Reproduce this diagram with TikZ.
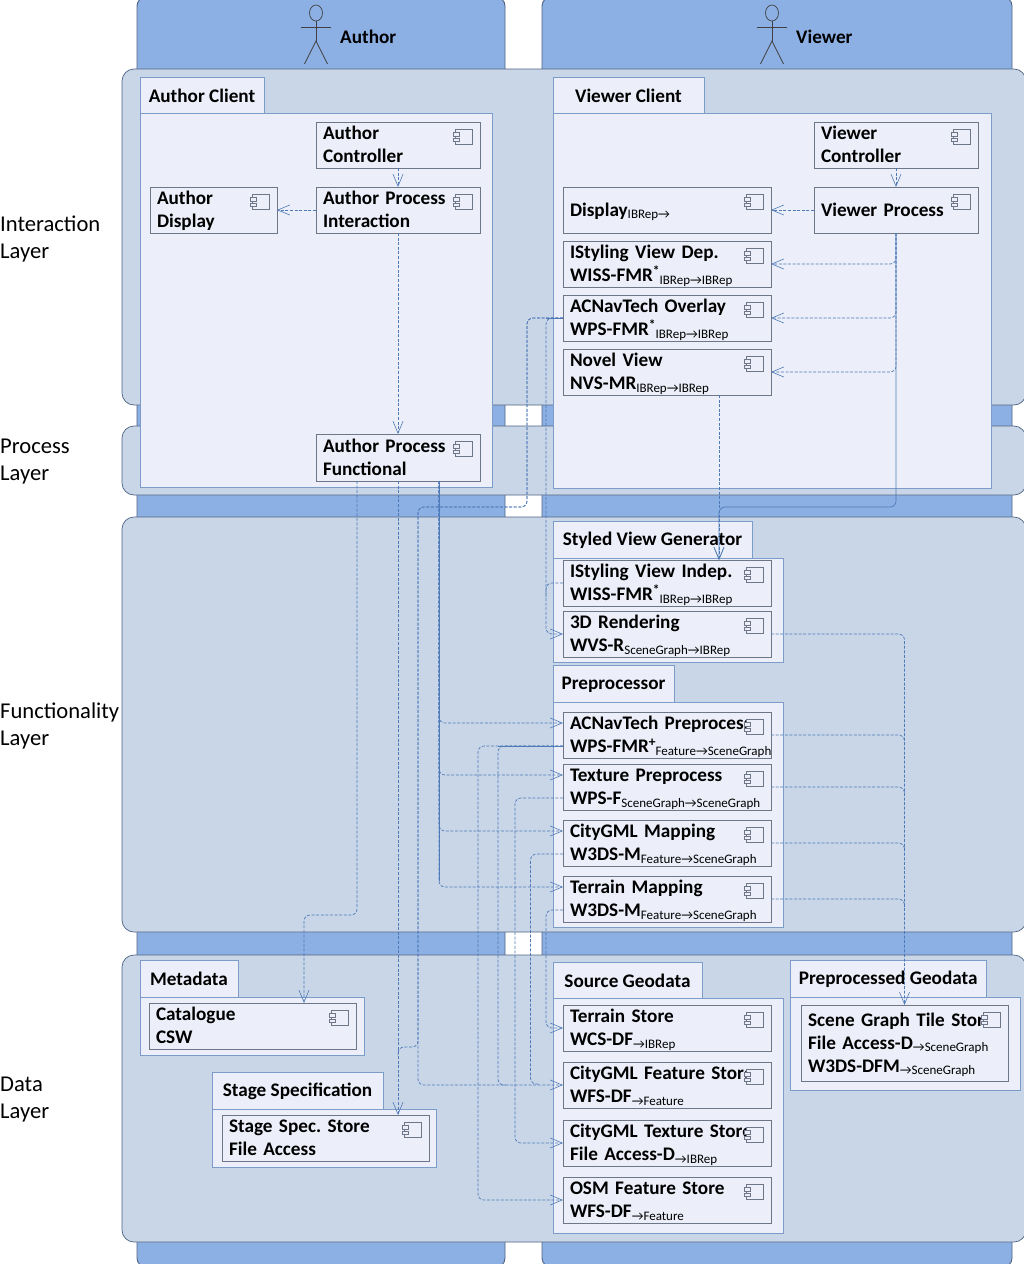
\documentclass[tikz,border=0pt]{standalone}
\usepackage{fontspec}
\setmainfont{Carlito}
\usetikzlibrary{arrows.meta}
\exhyphenpenalty=10000
\hyphenpenalty=10000
\frenchspacing
\definecolor{lanefill}{HTML}{8DB0E4}
\definecolor{laneline}{HTML}{4F6484}
\definecolor{layerfill}{HTML}{C9D6E7}
\definecolor{packfill}{HTML}{ECEFF9}
\definecolor{packline}{HTML}{7C9CC9}
\definecolor{compline}{HTML}{6D7787}
\definecolor{depline}{HTML}{4F7AB8}
\newcommand{\subl}[1]{\raisebox{-2.5pt}{\fontsize{13}{14}\selectfont\mdseries #1}}
\newcommand{\supl}[1]{\raisebox{6pt}{\fontsize{13.5}{14}\selectfont #1}}
\newcommand{\arr}{→}
\tikzset{
  barb/.style={-{Straight Barb[length=12pt,width=10pt,line width=.6pt]}},
  lane/.style 2 args={draw=laneline, fill=lanefill, line width=.9pt, rounded corners=9pt, anchor=north west, outer sep=0pt, minimum width=#1, minimum height=#2},
  layer/.style 2 args={draw=laneline, fill=layerfill, line width=.7pt, rounded corners=12pt, anchor=north west, outer sep=0pt, minimum width=#1, minimum height=#2},
  pack/.style 2 args={draw=packline, fill=packfill, line width=.9pt, anchor=north west, outer sep=0pt, inner sep=0pt, minimum width=#1, minimum height=#2},
  tab/.style 2 args={pack={#1}{#2}, font=\bfseries\fontsize{19.2}{23}\selectfont, execute at begin node={\rule{0pt}{15pt}}},
  comp/.style 2 args={draw=compline, fill=packfill, line width=.9pt, anchor=north west, outer sep=0pt, inner ysep=0pt, inner xsep=7pt, minimum width=#1, minimum height=#2, text width=#1-14, align=left, font=\bfseries\fontsize{19.2}{23}\selectfont, execute at begin node={\rule{0pt}{17pt}}, execute at end node={\rule[-5pt]{0pt}{5pt}}},
  laylabel/.style={anchor=west, inner sep=0pt, align=left, font=\fontsize{22.6}{27}\selectfont},
  actorname/.style={anchor=west, inner sep=0pt, font=\bfseries\fontsize{19.2}{23}\selectfont},
  actorline/.style={draw=black!75, line width=.7pt},
  iconline/.style={draw=compline, fill=packfill, line width=.7pt},
  branch/.style={draw=depline, line width=.7pt, dash pattern=on 3pt off 1.6pt, rounded corners=6pt},
  dep/.style={branch, barb},
  trunk/.style={draw=depline, line width=.7pt, rounded corners=6pt},
}
\begin{document}
\begin{tikzpicture}[x=1pt,y=-1pt]
\useasboundingbox (0,0) rectangle (1024,1264);
% swimlanes
\node[lane={368}{1270}] (authorlane) at (137,-3) {};
\node[lane={470}{1270}] (viewerlane) at (542,-3) {};
% actors
\foreach \x/\who in {316/Author,772/Viewer} {
  \draw[actorline] (\x,13) ellipse (6.5 and 8);
  \draw[actorline] (\x,21) -- (\x,41) (\x-15,27.5) -- (\x+15,27.5);
  \draw[actorline] (\x-11.5,64) -- (\x,41) -- (\x+11.5,64);
  \node[actorname] (name\who) at (\x+24,37) {\who};
}
% layers
\node[layer={904}{336}] (interaction) at (122,69) {};
\node[layer={904}{69}] (process) at (122,426) {};
\node[layer={904}{415}] (functionality) at (122,517) {};
\node[layer={904}{287}] (data) at (122,955) {};
\node[laylabel] (lblinter) at (0,239) {Interaction\\Layer};
\node[laylabel] (lblproc) at (0,462) {Process\\Layer};
\node[laylabel] (lblfunc) at (0,726) {Functionality\\Layer};
\node[laylabel] (lbldata) at (0,1100) {Data\\Layer};
% packages
\node[pack={352}{374}] (authorbody) at (140,113) {};
\node[tab={124}{36}] (authortab) at (140,77) {Author Client};
\node[pack={438}{375}] (viewerbody) at (553,113) {};
\node[tab={151}{36}] (viewertab) at (553,77) {Viewer Client};
\node[pack={230}{104}] (styledbody) at (553,558) {};
\node[tab={199}{37}] (styledtab) at (553,521) {Styled View Generator};
\node[pack={230}{225}] (prepbody) at (553,702) {};
\node[tab={121}{37}] (preptab) at (553,665) {Preprocessor};
\node[pack={224.5}{58}] (metabody) at (140,997) {};
\node[tab={98}{37}] (metatab) at (140,960) {Metadata};
\node[pack={224}{58}] (stagebody) at (212,1109) {};
\node[tab={171}{37}] (stagetab) at (212,1072) {Stage Specification};
\node[pack={230}{235}] (sourcebody) at (553,998) {};
\node[tab={149}{36}] (sourcetab) at (553,962) {Source Geodata};
\node[pack={230}{93}] (preprocbody) at (790,997) {};
\node[tab={196.5}{37}] (preproctab) at (790,960) {Preprocessed Geodata};
% components
\node[comp={164}{46}] (authctrl) at (316,122) {Author\\Controller};
\node[comp={164}{46}] (authproc) at (316,187) {Author Process\\Interaction};
\node[comp={127}{46}] (authdisp) at (150,187) {Author\\Display};
\node[comp={164}{47}] (authfunc) at (316,434) {Author Process\\Functional};
\node[comp={164}{46}] (viewctrl) at (814,122) {Viewer\\Controller};
\node[comp={164}{46}] (viewproc) at (814,187) {Viewer Process};
\node[comp={208}{46}] (display) at (563,187) {Display\subl{IBRep\arr}};
\node[comp={208}{46}] (isdep) at (563,241) {IStyling View Dep.\\WISS-FMR\supl{*}\subl{IBRep\arr IBRep}};
\node[comp={208}{46}] (acover) at (563,295) {ACNavTech Overlay\\WPS-FMR\supl{*}\subl{IBRep\arr IBRep}};
\node[comp={208}{46}] (nvs) at (563,349) {Novel View\\NVS-MR\subl{IBRep\arr IBRep}};
\node[comp={208}{46}] (isindep) at (563,560) {IStyling View Indep.\\WISS-FMR\supl{*}\subl{IBRep\arr IBRep}};
\node[comp={208}{46}] (render) at (563,611) {3D Rendering\\WVS-R\subl{SceneGraph\arr IBRep}};
\node[comp={208}{46}] (acpre) at (563,712) {ACNavTech Preprocess\\WPS-FMR\supl{+}\subl{Feature\arr SceneGraph}};
\node[comp={208}{46}] (texpre) at (563,764) {Texture Preprocess\\WPS-F\subl{SceneGraph\arr SceneGraph}};
\node[comp={208}{46}] (gmlmap) at (563,820) {CityGML Mapping\\W3DS-M\subl{Feature\arr SceneGraph}};
\node[comp={208}{46}] (termap) at (563,876) {Terrain Mapping\\W3DS-M\subl{Feature\arr SceneGraph}};
\node[comp={207}{46}] (catalog) at (149,1003) {Catalogue\\CSW};
\node[comp={207}{46}] (stagestore) at (222,1115) {Stage Spec. Store\\File Access};
\node[comp={208}{46}] (terstore) at (563,1005) {Terrain Store\\WCS-DF\subl{\arr IBRep}};
\node[comp={208}{46}] (gmlstore) at (563,1062) {CityGML Feature Store\\WFS-DF\subl{\arr Feature}};
\node[comp={208}{46}] (texstore) at (563,1120) {CityGML Texture Store\\File Access-D\subl{\arr IBRep}};
\node[comp={208}{46}] (osmstore) at (563,1177) {OSM Feature Store\\WFS-DF\subl{\arr Feature}};
\node[comp={207}{76}] (tilestore) at (801,1005) {Scene Graph Tile Store\\File Access-D\subl{\arr SceneGraph}\\W3DS-DFM\subl{\arr SceneGraph}};
% component icons
\foreach \n in {authctrl,authproc,authdisp,authfunc,viewctrl,viewproc,display,isdep,acover,nvs,isindep,render,acpre,texpre,gmlmap,termap,catalog,stagestore,terstore,gmlstore,texstore,osmstore,tilestore} {
  \draw[iconline] ([shift={(-25,7)}]\n.north east) rectangle ([shift={(-8,22)}]\n.north east);
  \draw[iconline] ([shift={(-27,10.5)}]\n.north east) rectangle ([shift={(-21,14)}]\n.north east);
  \draw[iconline] ([shift={(-27,16)}]\n.north east) rectangle ([shift={(-21,19.5)}]\n.north east);
}
% author client
\draw[dep] (authctrl) -- (authproc);
\draw[dep] (authproc) -- (authdisp);
\draw[dep] (authproc) -- (authfunc);
% viewer client
\draw[dep] (viewctrl) -- (viewproc);
\draw[dep] (viewproc) -- (display);
\draw[trunk,barb] (viewproc.south) -- ++(0,274) -| ([xshift=52]isindep.north);
\draw[dep] (viewproc.south) |- (isdep.east);
\draw[dep] (viewproc.south) |- (acover.east);
\draw[dep] (viewproc.south) |- (nvs.east);
\draw[dep] ([xshift=52]nvs.south) -- ([xshift=52]isindep.north);
\draw[trunk] (acover.west) -- ++(-17,0);
\draw[dep] (acover.west) -- ++(-17,0) |- (render.west);
\draw[branch] (isindep.west) -- ++(-17,0) -- ++(0,14);
\draw[dep] (acover.west) -- ++(-36,0) -- ++(0,189) -- ++(-109,0) |- (gmlstore.west);
\draw[branch] (acover.west) -- ++(-36,0) -- ++(0,189) -- ++(-109,0) -- ++(0,540) -- ++(-20,0) -- ++(0,8);
% author functional
\draw[trunk] ([xshift=41]authfunc.south) -- ++(0,400);
\draw[dep] ([xshift=41]authfunc.south) |- ([yshift=12]acpre.west);
\draw[dep] ([xshift=41]authfunc.south) |- ([yshift=12]texpre.west);
\draw[dep] ([xshift=41]authfunc.south) |- ([yshift=12]gmlmap.west);
\draw[dep] ([xshift=41]authfunc.south) |- ([yshift=12]termap.west);
\draw[dep] ([xshift=-41]authfunc.south) -- ++(0,434) -| ([xshift=51.5]catalog.north);
\draw[dep] (authfunc.south) -- ([xshift=72.5]stagestore.north);
% preprocessors to stores
\draw[trunk] ([yshift=-11]acpre.west) -- ++(-65,0);
\draw[branch] ([yshift=-11]acpre.west) -- ++(-65,0) -- ++(0,339) -- ++(8,0);
\draw[dep] ([yshift=-11]acpre.west) -- ++(-85,0) |- (osmstore.west);
\draw[dep] ([yshift=-11]texpre.west) -- ++(-48,0) |- (texstore.west);
\draw[branch] ([yshift=-11]gmlmap.west) -- ++(-32.5,0) -- ++(0,230) -- ++(8,0);
\draw[dep] ([yshift=-11]termap.west) -- ++(-17,0) |- (terstore.west);
% to the tile store
\draw[dep] (render.east) -| (tilestore.north);
\draw[branch] (acpre.east) -- ++(133.5,0) -- ++(0,8);
\draw[branch] (texpre.east) -- ++(133.5,0) -- ++(0,8);
\draw[branch] (gmlmap.east) -- ++(133.5,0) -- ++(0,8);
\draw[branch] (termap.east) -- ++(133.5,0) -- ++(0,8);
\end{tikzpicture}
\end{document}
